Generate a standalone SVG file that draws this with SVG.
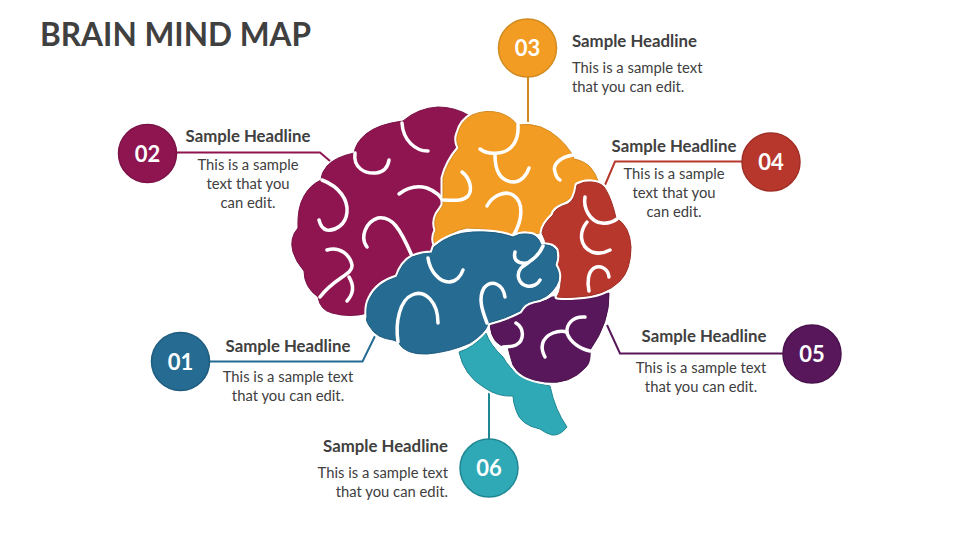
<svg xmlns="http://www.w3.org/2000/svg" xmlns:xlink="http://www.w3.org/1999/xlink" width="960" height="540" viewBox="0 0 960 540">
<style>
text{font-family:"Lato","Open Sans",sans-serif;fill:#404040}
.t{font-size:33px;font-weight:700}
.h{font-size:16.800px;font-weight:700}
.b{font-size:14.800px}
.m{text-anchor:middle}
.e{text-anchor:end}
.n{font-size:22px;font-weight:700;fill:#fff;text-anchor:middle}
.halo{fill:#fff;stroke:#fff;stroke-width:5;stroke-linejoin:round}
.s{fill:none;stroke:#fff;stroke-width:3.500;stroke-linecap:round;stroke-linejoin:round}
.l{fill:none;stroke-width:2}
.c{stroke-width:1.500}
</style>
<defs>
<path id="p2" d="M470 116Q455 107 438 107Q418 108 403 121Q378 124 366 134Q356 142 354 153Q335 157 327 166Q321 173 321 180Q310 185 304 196Q297 208 298 228Q289 238 293 252Q296 262 304 271Q304 287 318 297Q320 310 332 313Q350 318 368 313L440 290L480 180Z"/>
<path id="p3" d="M458 133Q461 121 472 115Q486 109 500 113Q512 117 517 125Q530 123 541 127Q560 135 572 154L574 159Q585 161 591 168Q596 174 598 181Q585 182 576 192Q570 200 557 206Q550 212 547 224L541 233L513 236Q490 228 467 228Q450 231 435 245Q432 238 436 230Q433 222 437 214Q440 210 443 205L443 178Q447 162 459 148Q455 140 458 133Z"/>
<path id="p6" d="M459 352Q473 348 486 333Q490 345 503 357Q515 380 550 386Q555 410 567 427Q560 436 552 435Q545 433 540 429Q520 425 516 410Q513 402 513 396Q498 397 485 388Q464 376 459 352Z"/>
<path id="p5" d="M490 325Q505 322 517 315Q520 306 528 303Q542 304 552 297Q580 296 609 293Q610 322 590 350Q591 362 586 367Q570 385 545 382Q520 379 513 365Q510 356 508 347Q492 346 490 325Z"/>
<path id="p4" d="M577 185Q584 181 592 182Q603 183 606 190Q612 200 616 218Q630 226 631 247Q631 270 620 281Q605 296 577 297Q565 298 557 297Q563 287 560 273Q556 258 556 252Q545 246 545 240L542 233Q543 224 553 215Q554 208 568 204Q575 200 577 185Z"/>
<path id="p1" d="M434 247Q450 233 473 232Q497 231 513 237Q520 233 527 234Q538 234 541 245Q552 244 556 250Q558 258 555 265Q562 276 556 286Q548 299 533 301Q524 303 520 311Q505 319 488 323Q487 332 470 343Q450 352 427 354Q405 355 398 342L393 340Q376 338 370 327Q365 320 367 317Q366 305 370 298Q377 283 397 277Q402 262 412 257Q422 253 432 253Z"/>
</defs>

<text class="t" x="40" y="46" textLength="271" lengthAdjust="spacingAndGlyphs">BRAIN MIND MAP</text>

<g id="connectors">
<path class="l" stroke="#256b92" d="M209 361.500H362.500L376 334"/>
<path class="l" stroke="#8e1550" d="M177 152.500H320L330 161"/>
<path class="l" stroke="#d18a1f" d="M528 77V126"/>
<path class="l" stroke="#b8372d" d="M742 161.500H615L605 185"/>
<path class="l" stroke="#58175a" d="M783 353.500H620L607 325"/>
<path class="l" stroke="#1f8793" d="M489 439V388"/>
</g>

<g id="brain">
<g id="lobe-02">
<use xlink:href="#p2" fill="#8e1550" stroke="#7c1247" stroke-width="1"/>
<path class="s" d="M402 123C403 140 415 151 428 151"/>
<path class="s" d="M355 153C353 168 365 174 376 173C384 172 388 167 389 160"/>
<path class="s" d="M322 180C340 187 348 200 347 212C346 225 335 231 327 230C322 229 320 224 319 220"/>
<path class="s" d="M399 194Q412 184 427 188Q440 193 444 203"/>
<path class="s" d="M367 247C360 238 365 222 378 218C392 216 400 228 412 256"/>
<path class="s" d="M327 250C340 246 350 255 352 265C353 275 335 277 320 297"/>
<path class="s" d="M349 277Q357 290 347 301"/>
</g>
<g id="lobe-03">
<use xlink:href="#p3" class="halo"/>
<use xlink:href="#p3" fill="#f39c24" stroke="#d18a1f" stroke-width="1"/>
<path class="s" d="M518 125C519 140 512 152 498 153C490 154 484 152 480 149"/>
<path class="s" d="M495 155C495 170 500 181 513 182C521 182 527 175 529 168"/>
<path class="s" d="M462 172C470 178 473 190 468 196C462 202 452 200 443 200"/>
<path class="s" d="M487 206C492 196 505 190 513 195C524 202 523 220 513 236"/>
<path class="s" d="M573 155C560 157 552 165 555 172C556 176 558 179 560 180"/>
</g>
<g id="lobe-06">
<use xlink:href="#p6" class="halo"/>
<use xlink:href="#p6" fill="#2fa9b5" stroke="#1f8793" stroke-width="1"/>
</g>
<g id="lobe-05">
<use xlink:href="#p5" class="halo"/>
<use xlink:href="#p5" fill="#58175a" stroke="#4a124c" stroke-width="1"/>
<path class="s" d="M516 323C524 328 525 340 516 345C512 347 507 347 503 347"/>
<path class="s" d="M545 357C540 348 541 338 553 333C558 331 563 331 567 332"/>
<path class="s" d="M585 317C572 316 566 325 567 333C570 342 580 349 590 351"/>
</g>
<g id="lobe-04">
<use xlink:href="#p4" class="halo"/>
<use xlink:href="#p4" fill="#b8372d" stroke="#a02e25" stroke-width="1"/>
<path class="s" d="M585 197C583 208 590 222 602 223Q610 224 617 219"/>
<path class="s" d="M587 222C579 232 579 246 592 252Q601 255 610 250"/>
<path class="s" d="M609 277C608 268 600 265 594 268C588 272 587 282 589 291"/>
</g>
<g id="lobe-01">
<use xlink:href="#p1" class="halo"/>
<use xlink:href="#p1" fill="#256b92" stroke="#1f5c7f" stroke-width="1"/>
<path class="s" d="M428 258C430 272 440 282 449 282C456 282 461 276 463 270"/>
<path class="s" d="M398 342C395 322 400 300 412 295C425 289 438 302 438 323"/>
<path class="s" d="M487 323C482 310 478 298 484 288C492 279 503 284 505 297"/>
<path class="s" d="M543 246C538 258 528 262 521 268C516 274 518 284 527 286C533 287 538 284 540 280"/>
<path class="s" d="M515 252C513 260 518 264 527 263"/>
</g>
</g>

<g id="node-01">
<circle class="c" cx="180.500" cy="361.500" r="29" fill="#256b92" stroke="#1f5c7f"/>
<text class="n" x="180.500" y="369.500">01</text>
<text class="h m" x="288" y="352">Sample Headline</text>
<text class="b m" x="288" y="382">This is a sample text</text>
<text class="b m" x="288" y="401">that you can edit.</text>
</g>
<g id="node-02">
<circle class="c" cx="147.500" cy="153.500" r="29" fill="#8e1550" stroke="#7c1247"/>
<text class="n" x="147.500" y="161.500">02</text>
<text class="h m" x="248" y="142">Sample Headline</text>
<text class="b m" x="248" y="170">This is a sample</text>
<text class="b m" x="248" y="189">text that you</text>
<text class="b m" x="248" y="208">can edit.</text>
</g>
<g id="node-03">
<circle class="c" cx="527.500" cy="48" r="29" fill="#f39c24" stroke="#d18a1f"/>
<text class="n" x="527.500" y="56">03</text>
<text class="h" x="572" y="47">Sample Headline</text>
<text class="b" x="572" y="73">This is a sample text</text>
<text class="b" x="572" y="92">that you can edit.</text>
</g>
<g id="node-04">
<circle class="c" cx="771" cy="162" r="29" fill="#b8372d" stroke="#a02e25"/>
<text class="n" x="771" y="170">04</text>
<text class="h m" x="674" y="152">Sample Headline</text>
<text class="b m" x="674" y="179">This is a sample</text>
<text class="b m" x="674" y="198">text that you</text>
<text class="b m" x="674" y="217">can edit.</text>
</g>
<g id="node-05">
<circle class="c" cx="812" cy="354" r="29" fill="#58175a" stroke="#4a124c"/>
<text class="n" x="812" y="362">05</text>
<text class="h m" x="704" y="342">Sample Headline</text>
<text class="b m" x="701" y="373">This is a sample text</text>
<text class="b m" x="701" y="392">that you can edit.</text>
</g>
<g id="node-06">
<circle class="c" cx="489" cy="468" r="29" fill="#2fa9b5" stroke="#1f8793"/>
<text class="n" x="489" y="476">06</text>
<text class="h e" x="448" y="452">Sample Headline</text>
<text class="b e" x="448" y="478">This is a sample text</text>
<text class="b e" x="448" y="497">that you can edit.</text>
</g>
</svg>
